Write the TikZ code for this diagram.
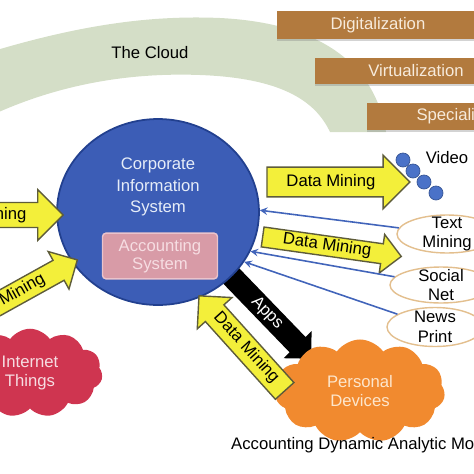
\documentclass[tikz,border=0pt]{standalone}
\usepackage{fontspec}
\setmainfont{Liberation Sans}
\usetikzlibrary{shapes.geometric,shapes.arrows,shapes.symbols,shadows}

\definecolor{bandgreen}{HTML}{D4DEC7}
\definecolor{trendbrown}{HTML}{B27A3E}
\definecolor{trendtext}{HTML}{F7EBDC}
\definecolor{cisblue}{HTML}{3C5DB6}
\definecolor{cisedge}{HTML}{22408F}
\definecolor{cistext}{HTML}{E6EDF8}
\definecolor{accpink}{HTML}{D89BA7}
\definecolor{accedge}{HTML}{EAC3CB}
\definecolor{acctext}{HTML}{F6DDE2}
\definecolor{mineyellow}{HTML}{F3EF3A}
\definecolor{mineedge}{HTML}{5E5C3A}
\definecolor{iotred}{HTML}{CF3550}
\definecolor{devorange}{HTML}{F18A2F}
\definecolor{devtext}{HTML}{FDE6CC}
\definecolor{srcedge}{HTML}{E3BF8E}
\definecolor{feedblue}{HTML}{4164BA}
\definecolor{beadblue}{HTML}{4A72C8}

\tikzset{
  every node/.style={font=\fontsize{9.5}{11}\selectfont},
  trend/.style={rectangle, fill=trendbrown, text=trendtext, minimum width=4.04cm,
    minimum height=0.53cm, drop shadow={shadow xshift=0pt, shadow yshift=-1.2pt, opacity=0.35}},
  minearrow/.style={single arrow, draw=mineedge, line width=0.8pt, fill=mineyellow,
    text height=6.4pt, text depth=1.8pt, inner xsep=1pt},
  apparrow/.style={single arrow, fill=black, text=white, text height=6.4pt,
    text depth=1.8pt, inner xsep=1pt},
  source/.style={ellipse, draw=srcedge, line width=0.8pt, fill=white, inner sep=0pt},
  bead/.style={circle, fill=beadblue, draw=beadblue!75!black, line width=0.4pt,
    inner sep=0pt, minimum size=0.28cm},
  feed/.style={draw=feedblue, line width=0.9pt, -stealth},
  puff/.style={cloud, cloud puffs=11, cloud puff arc=110, inner sep=0pt, align=center}
}

\begin{document}
\begin{tikzpicture}[x=0.02cm, y=-0.02cm]
  \useasboundingbox (0,0) rectangle (474,474);
  \clip (0,0) rectangle (474,474);

  % the cloud band
  \fill[bandgreen] (-10,52) .. controls (80,25) and (150,15) .. (220,18)
    .. controls (300,22) and (372,50) .. (386,132) -- (330,132)
    .. controls (315,100) and (280,78) .. (200,75)
    .. controls (120,72) and (50,88) .. (-10,116) -- cycle;
  \node (cloudlbl) at (150,53) {The Cloud};

  % trends
  \node[trend] (digi) at (378,25) {Digitalization};
  \node[trend] (virt) at (416,71) {Virtualization};
  \node[trend] (spec) at (468,116.5) {Specialization};

  % apps leave from under the system
  \node[apparrow, rotate=-46, inner ysep=2pt, single arrow head extend=4.8pt,
    minimum height=2.32cm] (apps) at (267,313) {Apps};

  % corporate information system
  \node[ellipse, fill=cisblue, draw=cisedge, line width=1pt, minimum width=4.04cm,
    minimum height=3.72cm] (cis) at (158,212) {};
  \node[text=cistext, align=center, font=\fontsize{9.5}{12.2}\selectfont] (cislbl)
    at (158,187) {Corporate\\Information\\System};
  \node[rectangle, rounded corners=2pt, fill=accpink, draw=accedge, line width=0.8pt,
    text=acctext, align=center, font=\fontsize{9.5}{10.5}\selectfont,
    minimum width=2.3cm, minimum height=0.84cm] (acc) at (160,256) {Accounting\\System};

  % sources
  \node[source, minimum width=2cm, minimum height=0.76cm] (txtm) at (447,234) {};
  \node[align=center, font=\fontsize{9.5}{10.3}\selectfont] (txtmlbl) at (txtm) {Text\\Mining};
  \node[source, minimum width=2.04cm, minimum height=0.72cm] (social) at (441,285) {};
  \node[align=center, font=\fontsize{9.5}{10.3}\selectfont] (sociallbl) at (social) {Social\\Net};
  \node[source, minimum width=1.92cm, minimum height=0.78cm] (news) at (435,327) {};
  \node[align=center, font=\fontsize{9.5}{11.5}\selectfont] (newslbl) at (news) {News\\Print};

  \foreach \i/\px/\py in {1/403/160, 2/413/171, 3/424/182, 4/436/193}
    \node[bead] (v\i) at (\px,\py) {};
  \node (video) at (447,158) {Video};

  % clouds
  \node[puff, fill=iotred, text=acctext, minimum width=2.9cm, minimum height=1.75cm]
    (iot) at (30,373) {Internet\\Things};
  \node[puff, fill=devorange, text=devtext, minimum width=3.4cm, minimum height=1.7cm]
    (pdev) at (360,391) {Personal\\Devices};

  % data mining flows
  \node[minearrow, inner ysep=4pt, single arrow head extend=6.8pt,
    minimum height=2.86cm] (dm1) at (331,182) {Data Mining};
  \node[minearrow, rotate=-8, inner ysep=1.2pt, single arrow head extend=5.4pt,
    minimum height=2.8cm] (dm2) at (327,246) {Data Mining};
  \node[minearrow, inner ysep=2.6pt, single arrow head extend=7.4pt,
    minimum height=3cm] (dm3) at (-18,215) {Data Mining};
  \node[minearrow, rotate=29, inner ysep=2pt, single arrow head extend=5.7pt,
    minimum height=3.08cm] (dm4) at (5,300) {Data Mining};
  \node[minearrow, rotate=-48, shape border rotate=180, inner ysep=2.6pt,
    single arrow head extend=6.2pt, minimum height=2.56cm] (dm5) at (246,348) {Data Mining};

  % feeds into the system
  \draw[feed] (txtm) -- (cis.1);
  \draw[feed] (social) -- (cis.-23);
  \draw[feed] (news) -- (cis.-30);

  \node[anchor=west] (caption) at (225,445) {Accounting Dynamic Analytic Model};
\end{tikzpicture}
\end{document}
